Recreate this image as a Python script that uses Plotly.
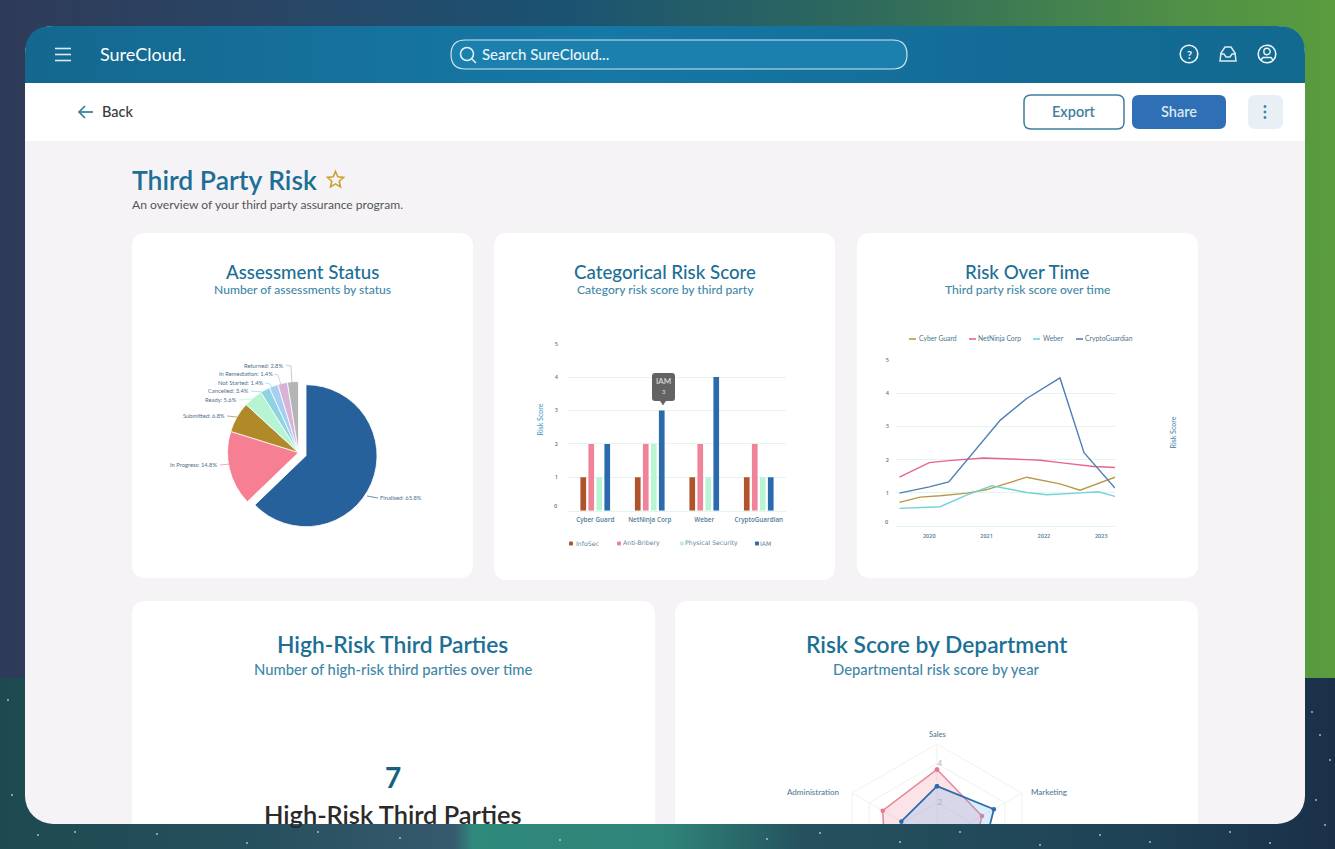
"""SureCloud third party risk dashboard, rebuilt in plotly."""
import base64
import math

import plotly.graph_objects as go

# the radar is cut off by the window, so the figure runs past the visible page
W, H, VISIBLE_H = 1335, 960, 849

# assessment status pie
pie_labels = ["Finalised", "In Progress", "Submitted", "Ready", "Cancelled",
              "Not Started", "In Remediation", "Returned"]
pie_values = [62.8, 17.0, 7.0, 4.3, 2.2, 2.0, 2.2, 2.5]
pie_text = ["65.8%", "14.8%", "6.8%", "5.6%", "3.4%", "1.4%", "1.4%", "2.8%"]
pie_colors = ["#27619b", "#f77f93", "#b08a28", "#b6f5d4", "#8dd4e2", "#a6cdf2", "#d6b3d7", "#b4b4b4"]

# categorical risk bars
bar_parties = ["Cyber Guard", "NetNinja Corp", "Weber", "CryptoGuardian"]
bar_infosec = [1, 1, 1, 1]
bar_antibribery = [2, 2, 2, 2]
bar_physical = [1, 2, 1, 1]
bar_iam = [2, 3, 4, 1]

# risk over time
cyber_x = [2019.48, 2019.84, 2020.19, 2020.66, 2020.99, 2021.70, 2022.28, 2022.63, 2023.24]
cyber_y = [0.71, 0.87, 0.91, 0.99, 1.09, 1.47, 1.27, 1.08, 1.47]
ninja_x = [2019.48, 2020.0, 2020.34, 2020.66, 2020.95, 2021.70, 2021.94, 2022.28, 2022.87, 2023.24]
ninja_y = [1.47, 1.91, 1.97, 2.01, 2.05, 2.00, 1.98, 1.91, 1.79, 1.76]
weber_x = [2019.48, 2019.84, 2020.19, 2020.66, 2021.09, 2021.70, 2022.05, 2022.58, 2022.95, 2023.24]
weber_y = [0.53, 0.55, 0.58, 0.94, 1.21, 1.01, 0.94, 0.99, 1.03, 0.89]
crypto_x = [2019.48, 2020.0, 2020.34, 2020.66, 2021.24, 2021.70, 2022.28, 2022.70, 2023.24]
crypto_y = [0.99, 1.18, 1.33, 1.99, 3.19, 3.84, 4.46, 2.21, 1.14]
year_ticks = [2020, 2021, 2022, 2023]

# radar, lower half is hidden in the reference
radar_axes = ["Sales", "Administration", "Information Technology", "Customer Support", "Development", "Marketing"]
radar_pink = [3.7, 3.2, 3.0, 2.5, 2.0, 2.65]
radar_blue = [2.85, 2.1, 2.0, 2.0, 2.5, 3.35]

TEAL = "#1c6f95"
SUBTEAL = "#3f87a8"
AXIS_TEXT = "#527b96"
GRID = "#e3f5ef"
FONT = "Lato"

shapes, annotations = [], []


def fx(x):
    return x / W


def fy(y):
    return 1 - y / H


def txt(x, y, s, size, color, anchor="left", weight=400, angle=0, family=FONT):
    # annotations carry a small padding, take it back out
    nudge = {"left": -2, "right": 2, "center": 0}[anchor]
    annotations.append(dict(x=fx(x + nudge), y=fy(y - 0.5), xref="paper", yref="paper", text=s, showarrow=False,
                            xanchor=anchor, yanchor="middle", textangle=angle,
                            font=dict(size=size, color=color, family=family, weight=weight)))


def round_path(x0, y0, x1, y1, r):
    p = [("M", x0 + r, y0), ("L", x1 - r, y0), ("Q", x1, y0, x1, y0 + r), ("L", x1, y1 - r),
         ("Q", x1, y1, x1 - r, y1), ("L", x0 + r, y1), ("Q", x0, y1, x0, y1 - r), ("L", x0, y0 + r),
         ("Q", x0, y0, x0 + r, y0)]
    out = ""
    for seg in p:
        pts = seg[1:]
        coords = " ".join(f"{fx(pts[i]):.5f},{fy(pts[i + 1]):.5f}" for i in range(0, len(pts), 2))
        out += f"{seg[0]} {coords} "
    return out + "Z"


def box(x0, y0, x1, y1, r, fill, line=None, lw=0, layer="below"):
    shapes.append(dict(type="path", path=round_path(x0, y0, x1, y1, r), xref="paper", yref="paper",
                       fillcolor=fill, line=dict(color=line or fill, width=lw), layer=layer))


def seg(pts, color, lw=1.0, layer="above", fill=None, close=False):
    d = "M " + " L ".join(f"{fx(a):.5f},{fy(b):.5f}" for a, b in pts)
    if close:
        d += " Z"
    shapes.append(dict(type="path", path=d, xref="paper", yref="paper", layer=layer,
                       fillcolor=fill if fill else "rgba(0,0,0,0)", line=dict(color=color, width=lw)))


def circle(cx, cy, r, color, lw=1.5, fill=None):
    shapes.append(dict(type="circle", xref="paper", yref="paper", x0=fx(cx - r), x1=fx(cx + r),
                       y0=fy(cy + r), y1=fy(cy - r), layer="above",
                       fillcolor=fill if fill else "rgba(0,0,0,0)", line=dict(color=color, width=lw)))


def backdrop_svg(view_y, view_h, window):
    """gradient wallpaper (and the app window header) as an inline svg"""
    stars = [(30, 748), (12, 795), (38, 835), (75, 832), (157, 834), (247, 843), (318, 832), (400, 838),
             (560, 840), (767, 839), (820, 833), (900, 842), (960, 832), (1040, 845), (1100, 835), (1150, 842),
             (1230, 832), (1270, 843), (1312, 712), (1320, 735), (1330, 760), (1316, 800), (1325, 825), (8, 700)]
    dots = "".join(f'<circle cx="{a}" cy="{b}" r="0.9" fill="#dfeaf5" opacity="0.8"/>' for a, b in stars)
    body = ""
    if window:
        body = ('<rect x="25" y="26" width="1280" height="798" rx="28" fill="#f5f3f5"/>'
                '<path d="M25 83 V54 Q25 26 53 26 H1277 Q1305 26 1305 54 V83 Z" fill="url(#head)"/>'
                '<rect x="25" y="83" width="1280" height="58" fill="#ffffff"/>')
    svg = (f'<svg xmlns="http://www.w3.org/2000/svg" width="{W}" height="{view_h}" '
           f'viewBox="0 {view_y} {W} {view_h}" preserveAspectRatio="none"><defs>'
           '<linearGradient id="top" gradientUnits="userSpaceOnUse" x1="0" y1="0" x2="1335" y2="0">'
           '<stop offset="0" stop-color="#2e3b58"/><stop offset="0.2" stop-color="#2a4565"/>'
           '<stop offset="0.42" stop-color="#1b5272"/><stop offset="0.65" stop-color="#2f6a5c"/>'
           '<stop offset="0.88" stop-color="#4f8f47"/><stop offset="1" stop-color="#5a9c3e"/></linearGradient>'
           '<linearGradient id="low" gradientUnits="userSpaceOnUse" x1="0" y1="0" x2="1335" y2="0">'
           '<stop offset="0" stop-color="#1d4a50"/><stop offset="0.2" stop-color="#27505e"/>'
           '<stop offset="0.34" stop-color="#365a6e"/><stop offset="0.355" stop-color="#2f8a7c"/>'
           '<stop offset="0.5" stop-color="#2f8478"/><stop offset="0.6" stop-color="#25525e"/>'
           '<stop offset="0.85" stop-color="#1f4256"/><stop offset="1" stop-color="#1a3048"/></linearGradient>'
           '<linearGradient id="head" gradientUnits="userSpaceOnUse" x1="25" y1="0" x2="1305" y2="0">'
           '<stop offset="0" stop-color="#14688f"/><stop offset="0.45" stop-color="#1678a6"/>'
           '<stop offset="0.75" stop-color="#136c97"/><stop offset="1" stop-color="#126a90"/></linearGradient>'
           '</defs>'
           f'<rect x="0" y="0" width="{W}" height="{VISIBLE_H}" fill="url(#low)"/>'
           '<rect x="-60" y="-60" width="1455" height="738" rx="40" fill="url(#top)"/>'
           f'{dots}{body}</svg>')
    return "data:image/svg+xml;base64," + base64.b64encode(svg.encode()).decode()


# page furniture
for x0, y0, x1, y1 in [(132, 233, 473, 578), (494, 233, 835, 580), (857, 233, 1198, 578),
                       (132, 601, 655, 900), (675, 601, 1198, 900)]:
    box(x0, y0, x1, y1, 14, "#ffffff")

for y in (48.5, 54.5, 60.5):
    seg([(55, y), (71, y)], "#dcebf2", 1.6)
txt(100, 54.5, "SureCloud.", 18, "#ffffff", weight=400)
box(451, 40, 907, 69, 14.5, "#1b80ae", "#cfe6ee", 1.2, layer="above")
circle(467, 54, 6.5, "#e6f2f7", 1.5)
seg([(472, 59), (476, 63)], "#e6f2f7", 1.5)
txt(482, 54.5, "Search SureCloud...", 15, "#eaf4f8", weight=500)

circle(1189, 54, 8.8, "#eef5f8", 1.6)
txt(1189, 55, "?", 11, "#eef5f8", "center", 700)
circle(1267, 54, 8.8, "#eef5f8", 1.6)
circle(1267, 51.5, 3.2, "#eef5f8", 1.4)
seg([(1261, 60), (1263, 57.5), (1271, 57.5), (1273, 60)], "#eef5f8", 1.4)
seg([(1221, 53), (1225, 47), (1231, 47), (1235, 53), (1236, 61), (1220, 61)], "#dcebf2", 1.5, close=True)
seg([(1220, 54), (1224, 54), (1226, 57), (1230, 57), (1232, 54), (1236, 54)], "#dcebf2", 1.4)

seg([(93, 112), (79, 112)], "#2f7da3", 1.7)
seg([(85, 106), (79, 112), (85, 118)], "#2f7da3", 1.7)
txt(102, 112, "Back", 14.5, "#3a3a3a", weight=500)
box(1024, 95, 1124, 129, 7, "#ffffff", "#3d7f9e", 1.5, layer="above")
txt(1074, 112, "Export", 14.5, "#437f9e", "center", 600)
box(1132, 95, 1226, 129, 7, "#2f6fb5", layer="above")
txt(1179, 112, "Share", 14.5, "#dbe8f3", "center", 600)
box(1248, 95, 1283, 129, 7, "#e9f0f5", layer="above")
for y in (106.5, 112, 117.5):
    circle(1265, y, 1.1, "#3d7f9e", 0.8, fill="#3d7f9e")

txt(132, 180, "Third Party Risk", 26.5, TEAL, weight=600)
txt(132, 204.5, "An overview of your third party assurance program.", 12.1, "#555555")
star = []
for i in range(10):
    rad = 8.5 if i % 2 == 0 else 3.9
    ang = math.radians(-90 + 36 * i)
    star.append((335.5 + rad * math.cos(ang), 180 + rad * math.sin(ang)))
seg(star, "#c8a22c", 1.6, close=True)

# card headings
txt(302.5, 272.5, "Assessment Status", 18.7, TEAL, "center", 500)
txt(302.5, 289.5, "Number of assessments by status", 12.1, SUBTEAL, "center", 500)
txt(665, 272.5, "Categorical Risk Score", 18.7, TEAL, "center", 500)
txt(665, 289.5, "Category risk score by third party", 12.1, SUBTEAL, "center", 500)
txt(1027.5, 272.5, "Risk Over Time", 18.7, TEAL, "center", 500)
txt(1027.5, 289.5, "Third party risk score over time", 12.1, SUBTEAL, "center", 500)
txt(393, 644.5, "High-Risk Third Parties", 22.8, TEAL, "center", 600)
txt(393, 669, "Number of high-risk third parties over time", 14.8, SUBTEAL, "center", 500)
txt(936.5, 644.5, "Risk Score by Department", 22.8, TEAL, "center", 600)
txt(936.5, 669, "Departmental risk score by year", 14.8, SUBTEAL, "center", 500)
txt(393, 777.5, "7", 28, "#14607f", "center", 700)
txt(393, 814.5, "High-Risk Third Parties", 25.4, "#2a2a2a", "center", 600)

fig = go.Figure()

# pie, apex of the unpulled wedges near (298.5, 452.5) with radius 71
PULL = 0.115
half = 71 * (1 + PULL)
fig.add_trace(go.Pie(labels=pie_labels, values=pie_values, sort=False, direction="clockwise", rotation=0,
                     pull=[PULL, 0, 0, 0, 0, 0, 0, 0], textinfo="none", showlegend=False, hoverinfo="label+text",
                     text=pie_text, marker=dict(colors=pie_colors, line=dict(color="#ffffff", width=0.8)),
                     domain=dict(x=[fx(298.5 - half), fx(298.5 + half)], y=[fy(452.5 + half), fy(452.5 - half)])))

# pie callouts: (text anchor, y, leader line) in page pixels
pie_callouts = [
    (380, 498, [(367, 496), (378, 498)], "left"),
    (217, 465, [(220, 465), (230, 464)], "right"),
    (225, 416, [(227, 416), (237, 417), (239, 419)], "right"),
    (237, 400, [(239, 400), (252, 399)], "right"),
    (249, 391, [(251, 391), (262, 392)], "right"),
    (264, 383, [(265, 383), (270, 384), (273, 389)], "right"),
    (273, 374, [(274, 374), (278, 375), (281, 385)], "right"),
    (283, 366, [(286, 365), (291, 366), (292, 383)], "right"),
]
for name, pct, color, (x, y, leader, anchor) in zip(pie_labels, pie_text, pie_colors, pie_callouts):
    txt(x, y, f"{name}: {pct}", 5.8, "#4f6f8c", anchor)
    seg(leader, color, 0.7)

# grouped bars
bar_series = [("InfoSec", bar_infosec, "#b0532a"), ("Anti-Bribery", bar_antibribery, "#f0829a"),
              ("Physical Security", bar_physical, "#b8f5d2"), ("IAM", bar_iam, "#2b6bad")]
for name, vals, color in bar_series:
    fig.add_trace(go.Bar(x=bar_parties, y=vals, name=name, marker=dict(color=color, line=dict(width=0)),
                         xaxis="x", yaxis="y", showlegend=False))

bar_legend_x = [(569, 576), (617, 623), (680, 684.5), (755, 760)]
for (name, _, color), (sx, tx) in zip(bar_series, bar_legend_x):
    box(sx, 541.5, sx + 4, 545.5, 1, color, layer="above")
    txt(tx, 543.5, name, 6.2, "#5f84a0", weight=400, family="DejaVu Sans")

box(652, 373, 675, 401, 3, "#636363", layer="above")
seg([(660, 400.5), (666, 400.5), (663, 405)], "#636363", 0.5, fill="#636363", close=True)
txt(663.5, 381, "IAM", 8, "#e8e8e8", "center")
txt(663.5, 392, "3", 6, "#dddddd", "center")
txt(539, 420, "Risk Score", 7, "#5aa3c9", "center", 600, -90)

# risk lines
line_series = [("Cyber Guard", cyber_x, cyber_y, "#b89a45"), ("NetNinja Corp", ninja_x, ninja_y, "#e8648a"),
               ("Weber", weber_x, weber_y, "#6fd4d8"), ("CryptoGuardian", crypto_x, crypto_y, "#4f7fb3")]
for name, xs, ys, color in line_series:
    fig.add_trace(go.Scatter(x=xs, y=ys, name=name, mode="lines", line=dict(color=color, width=1.4),
                             xaxis="x2", yaxis="y2", showlegend=False))

line_legend_x = [(909, 919), (969, 978), (1033, 1043), (1076, 1085)]
for (name, _, _, color), (sx, tx) in zip(line_series, line_legend_x):
    seg([(sx, 339), (sx + 7, 339)], color, 1.6)
    txt(tx, 339, name, 6.8, "#4f7590")
txt(1173, 433, "Risk Score", 7, "#5a90ad", "center", 600, -90)

# radar centred at (937, 842), radius 98
fig.add_trace(go.Scatterpolar(r=radar_pink + radar_pink[:1], theta=radar_axes + radar_axes[:1], mode="lines+markers",
                              fill="toself", fillcolor="rgba(240,128,150,0.22)", showlegend=False,
                              line=dict(color="#e98a9c", width=1.6), marker=dict(size=4.5, color="#e8788f")))
fig.add_trace(go.Scatterpolar(r=radar_blue + radar_blue[:1], theta=radar_axes + radar_axes[:1], mode="lines+markers",
                              fill="toself", fillcolor="rgba(90,175,235,0.22)", showlegend=False,
                              line=dict(color="#2f6cae", width=1.8), marker=dict(size=4.5, color="#2b6bad")))
# only the three upper spokes are visible, their labels sit further out than plotly puts them
txt(937, 734.5, radar_axes[0], 7.5, AXIS_TEXT, "center", 500)
txt(813, 792, radar_axes[1], 8, AXIS_TEXT, "center", 500)
txt(1049, 792.5, radar_axes[5], 8, AXIS_TEXT, "center", 500)

# wallpaper strip that hides everything under the window's bottom edge
images = [
    dict(source=backdrop_svg(0, VISIBLE_H, True), xref="paper", yref="paper", x=0, y=1, sizex=1,
         sizey=VISIBLE_H / H, sizing="stretch", xanchor="left", yanchor="top", layer="below"),
    dict(source=backdrop_svg(824, VISIBLE_H - 824, False), xref="paper", yref="paper", x=0, y=fy(824), sizex=1,
         sizey=(VISIBLE_H - 824) / H, sizing="stretch", xanchor="left", yanchor="top", layer="above"),
]

axis_font = dict(size=5.5, color=AXIS_TEXT, family="Open Sans", weight=600)
cat_font = dict(size=6.3, color=AXIS_TEXT, family="Open Sans", weight=600)
zero_blank = ["", "1", "2", "3", "4", "5"]

# the zero labels in the reference sit a few pixels above the axis line
for ax_x, ax_y in ((555.5, 506), (886, 522)):
    txt(ax_x, ax_y, "0", 5.5, AXIS_TEXT, "center", 600, family="Open Sans")

fig.update_layout(
    width=W, height=H, margin=dict(l=0, r=0, t=0, b=0, autoexpand=False),
    paper_bgcolor="#1d4a50", plot_bgcolor="rgba(0,0,0,0)",
    barmode="group", bargap=0.413, bargroupgap=0.29,
    shapes=shapes, annotations=annotations, images=images, hovermode="closest",
    xaxis=dict(domain=[fx(568), fx(786)], anchor="y", showgrid=False, showline=True, linecolor=GRID, linewidth=1,
               tickfont=cat_font, ticks="", ticklabelstandoff=3, zeroline=False),
    yaxis=dict(domain=[fy(510.7), fy(343.7)], anchor="x", range=[0, 5], tickvals=[0, 1, 2, 3, 4, 5],
               ticktext=zero_blank, gridcolor=GRID, gridwidth=1, zeroline=False, showline=False,
               tickfont=axis_font, ticks="", ticklabelstandoff=9),
    xaxis2=dict(domain=[fx(896), fx(1115)], anchor="y2", range=[2019.42, 2023.24], tickvals=year_ticks,
                showgrid=False, showline=True, linecolor=GRID, linewidth=1, tickfont=axis_font, ticks="",
                ticklabelstandoff=4, zeroline=False, tickformat="d"),
    yaxis2=dict(domain=[fy(526), fy(360)], anchor="x2", range=[0, 5], tickvals=[0, 1, 2, 3, 4, 5],
                ticktext=zero_blank, gridcolor=GRID, gridwidth=1, zeroline=False, showline=False,
                tickfont=axis_font, ticks="", ticklabelstandoff=6),
    polar=dict(domain=dict(x=[fx(937 - 98), fx(937 + 98)], y=[fy(842 + 98), fy(842 - 98)]),
               gridshape="linear", bgcolor="rgba(0,0,0,0)",
               angularaxis=dict(rotation=90, direction="counterclockwise", gridcolor="#f1f1f1", linecolor="#f1f1f1",
                                showticklabels=False, ticks=""),
               radialaxis=dict(range=[0, 5], tickvals=[2, 4], showline=False, gridcolor="#f1f1f1", ticks="",
                               tickfont=dict(size=8, color="#b0b0c4", family=FONT), angle=90, tickangle=90)),
)

fig.write_html("out.html", config=dict(displayModeBar=False),
               post_script="document.body.style.margin='0';document.documentElement.style.overflow='hidden';"
                           "document.body.style.overflow='hidden';")
